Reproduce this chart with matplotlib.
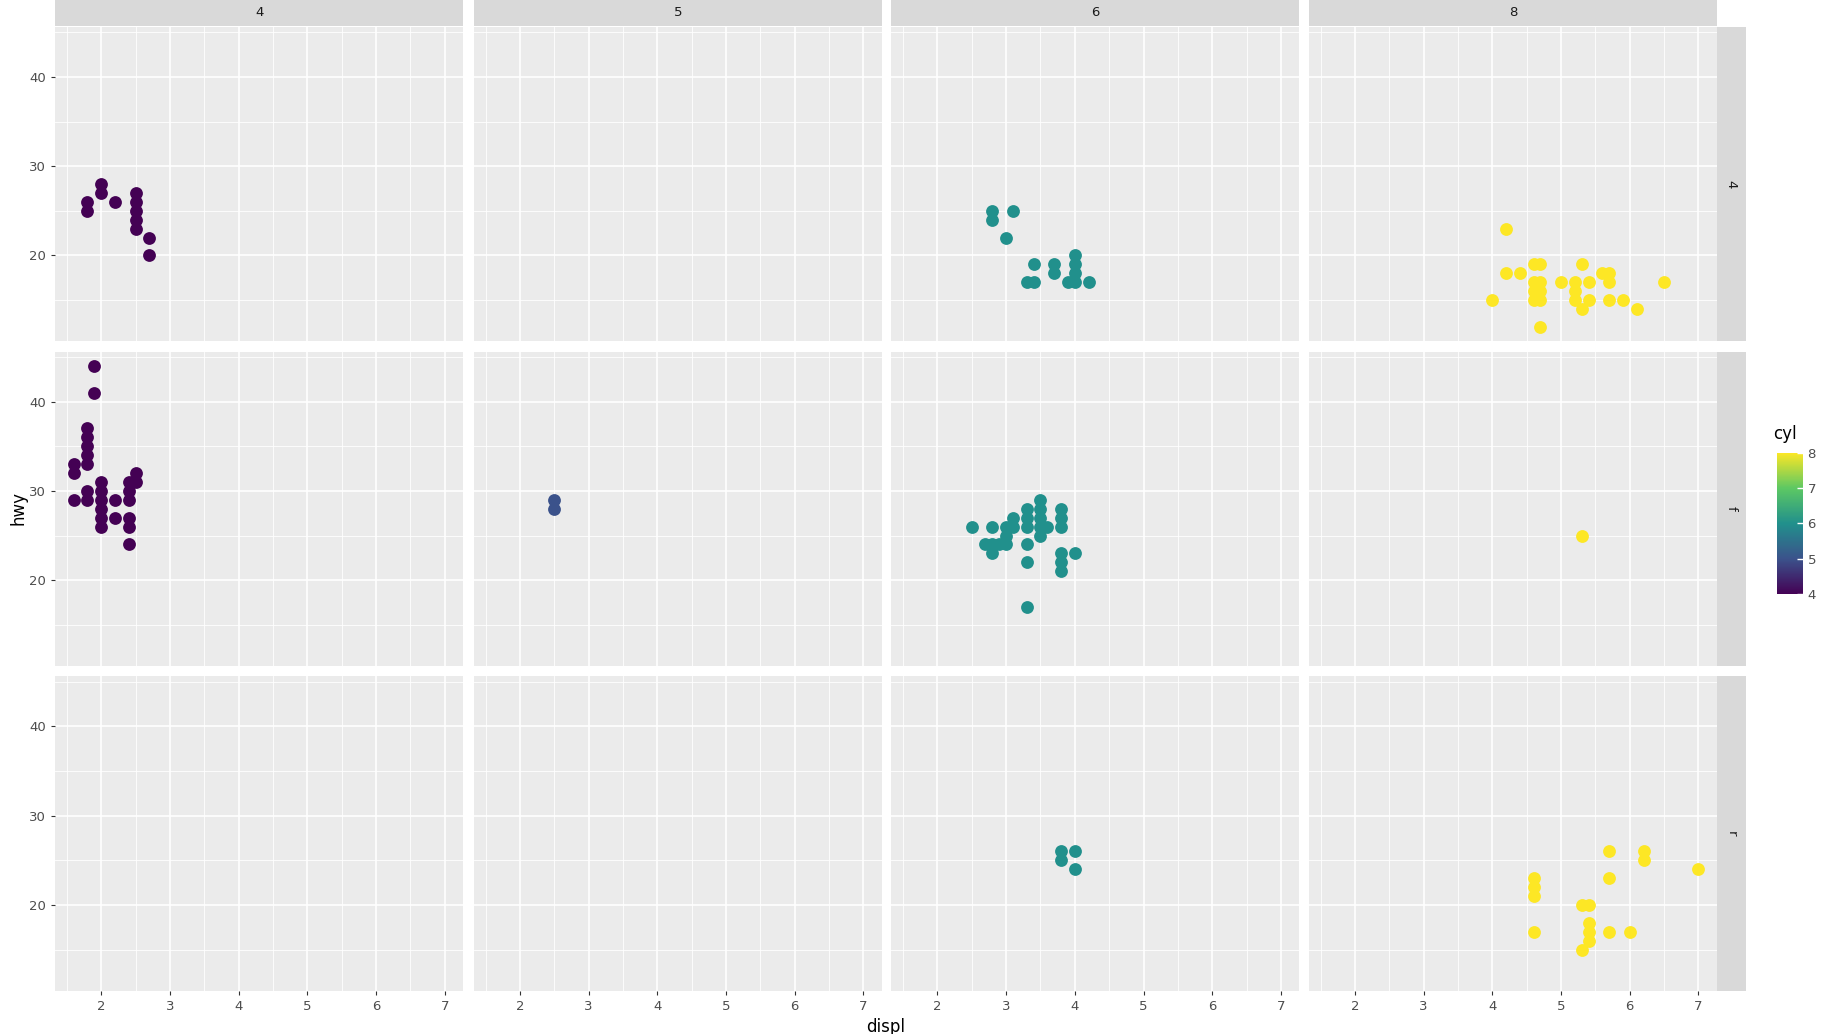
import matplotlib
matplotlib.use("Agg")
import matplotlib.pyplot as plt
import numpy as np
from matplotlib.colors import LinearSegmentedColormap
import matplotlib.cm as cm

cyl_levels = [4, 5, 6, 8]
drv_levels = ["4", "f", "r"]

# (drv, cyl) -> lists of displ, hwy
d4_c4_x = [1.8, 1.8, 2.0, 2.0, 2.2, 2.5, 2.5, 2.5, 2.5, 2.5, 2.7, 2.7]
d4_c4_y = [26, 25, 28, 27, 26, 27, 26, 25, 24, 23, 22, 20]
d4_c6_x = [2.8, 2.8, 3.1, 3.0, 3.3, 3.4, 3.4, 3.7, 3.7, 3.9, 4.0, 4.0, 4.0, 4.0, 4.2]
d4_c6_y = [25, 24, 25, 22, 17, 17, 19, 19, 18, 17, 20, 19, 18, 17, 17]
d4_c8_x = [4.2, 4.0, 4.2, 4.4, 4.6, 4.6, 4.6, 4.6, 4.7, 4.7, 4.7, 4.7, 4.7, 5.0, 5.2, 5.2, 5.2,
           5.3, 5.3, 5.4, 5.4, 5.6, 5.7, 5.7, 5.7, 5.9, 6.1, 6.5]
d4_c8_y = [23, 15, 18, 18, 19, 17, 16, 15, 19, 17, 16, 15, 12, 17, 17, 16, 15,
           19, 14, 17, 15, 18, 18, 17, 15, 15, 14, 17]
df_c4_x = [1.6, 1.6, 1.6, 1.8, 1.8, 1.8, 1.8, 1.8, 1.8, 1.8, 1.9, 1.9, 2.0, 2.0, 2.0, 2.0, 2.0, 2.0,
           2.2, 2.2, 2.4, 2.4, 2.4, 2.4, 2.4, 2.4, 2.5, 2.5]
df_c4_y = [33, 32, 29, 37, 36, 35, 34, 33, 30, 29, 44, 41, 31, 30, 29, 28, 27, 26,
           29, 27, 31, 30, 29, 27, 26, 24, 32, 31]
df_c5_x = [2.5, 2.5]
df_c5_y = [29, 28]
df_c6_x = [2.5, 2.7, 2.8, 2.8, 2.8, 2.9, 3.0, 3.0, 3.0, 3.1, 3.1, 3.3, 3.3, 3.3, 3.3, 3.3, 3.3,
           3.5, 3.5, 3.5, 3.5, 3.5, 3.6, 3.8, 3.8, 3.8, 3.8, 3.8, 3.8, 4.0]
df_c6_y = [26, 24, 26, 24, 23, 24, 26, 25, 24, 27, 26, 28, 27, 26, 24, 22, 17,
           29, 28, 27, 26, 25, 26, 28, 27, 26, 23, 22, 21, 23]
df_c8_x = [5.3]
df_c8_y = [25]
dr_c6_x = [3.8, 3.8, 4.0, 4.0]
dr_c6_y = [26, 25, 26, 24]
dr_c8_x = [4.6, 4.6, 4.6, 4.6, 5.3, 5.3, 5.4, 5.4, 5.4, 5.4, 5.7, 5.7, 5.7, 6.0, 6.2, 6.2, 7.0]
dr_c8_y = [23, 22, 21, 17, 15, 20, 20, 18, 17, 16, 26, 23, 17, 17, 26, 25, 24]

data = {
    ("4", 4): (d4_c4_x, d4_c4_y), ("4", 6): (d4_c6_x, d4_c6_y), ("4", 8): (d4_c8_x, d4_c8_y),
    ("f", 4): (df_c4_x, df_c4_y), ("f", 5): (df_c5_x, df_c5_y), ("f", 6): (df_c6_x, df_c6_y),
    ("f", 8): (df_c8_x, df_c8_y),
    ("r", 6): (dr_c6_x, dr_c6_y), ("r", 8): (dr_c8_x, dr_c8_y),
}

cmap = LinearSegmentedColormap.from_list("vir", ["#440154", "#3B528B", "#21908C", "#5DC863", "#FDE725"])
norm = plt.Normalize(4, 8)

W, H = 1568.0, 882.0
fig = plt.figure(figsize=(18.39, 10.34), dpi=100)
fig.patch.set_facecolor("white")

def rect(x0, y0, x1, y1):
    return [x0 / W, 1 - y1 / H, (x1 - x0) / W, (y1 - y0) / H]

lefts = [47, 404, 760, 1116]
pw = 348
tops = [23, 300, 577]
ph = 268

for j, c in enumerate(cyl_levels):
    sax = fig.add_axes(rect(lefts[j], 0, lefts[j] + pw, 22))
    sax.set_facecolor("#D9D9D9"); sax.set_xticks([]); sax.set_yticks([])
    for s in sax.spines.values(): s.set_visible(False)
    sax.text(0.5, 0.5, str(c), ha="center", va="center", fontsize=9.5, color="#1A1A1A", transform=sax.transAxes)

for i, d in enumerate(drv_levels):
    sax = fig.add_axes(rect(1463, tops[i], 1489, tops[i] + ph))
    sax.set_facecolor("#D9D9D9"); sax.set_xticks([]); sax.set_yticks([])
    for s in sax.spines.values(): s.set_visible(False)
    sax.text(0.5, 0.5, d, ha="center", va="center", rotation=-90, fontsize=9.5, color="#1A1A1A", transform=sax.transAxes)
    for j, c in enumerate(cyl_levels):
        ax = fig.add_axes(rect(lefts[j], tops[i], lefts[j] + pw, tops[i] + ph))
        ax.set_facecolor("#EBEBEB")
        ax.set_xlim(1.33, 7.27); ax.set_ylim(10.4, 45.6)
        for v in np.arange(1.5, 7.3, 1.0):
            ax.axvline(v, color="white", lw=0.6, zorder=0)
        for v in [15, 25, 35, 45]:
            ax.axhline(v, color="white", lw=0.6, zorder=0)
        for v in range(2, 8):
            ax.axvline(v, color="white", lw=1.2, zorder=0)
        for v in [20, 30, 40]:
            ax.axhline(v, color="white", lw=1.2, zorder=0)
        ax.set_xticks(range(2, 8)); ax.set_yticks([20, 30, 40])
        ax.tick_params(colors="#333333", labelcolor="#4D4D4D", labelsize=9.5, length=3, width=0.8)
        if i < 2:
            ax.tick_params(axis="x", bottom=False, labelbottom=False)
        if j > 0:
            ax.tick_params(axis="y", left=False, labelleft=False)
        for s in ax.spines.values(): s.set_visible(False)
        if (d, c) in data:
            xs, ys = data[(d, c)]
            ax.scatter(xs, ys, s=85, color=cmap(norm(c)), linewidths=0, zorder=3)

fig.text((47 + 1463) / 2 / W, 1 - 876 / H, "displ", ha="center", va="center", fontsize=12, color="black")
fig.text(16 / W, 1 - 433 / H, "hwy", ha="center", va="center", rotation=90, fontsize=12, color="black")

cax = fig.add_axes(rect(1515, 386, 1537, 507))
cb = fig.colorbar(cm.ScalarMappable(norm=norm, cmap=cmap), cax=cax, ticks=[4, 5, 6, 7, 8])
cb.outline.set_visible(False)
cax.tick_params(labelsize=9.5, labelcolor="#4D4D4D", color="white", length=4, width=1, direction="in")
fig.text(1512 / W, 1 - 370 / H, "cyl", ha="left", va="center", fontsize=12, color="black")

fig.savefig("out.png", dpi=100)
